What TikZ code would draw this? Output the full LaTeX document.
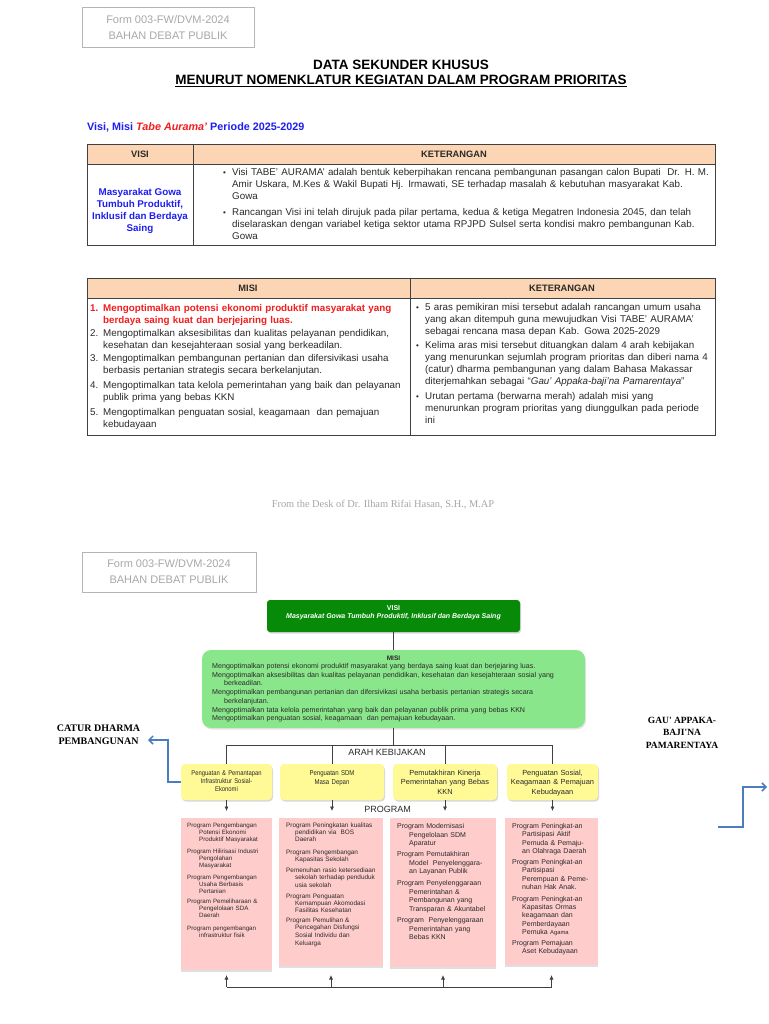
\documentclass[tikz,border=0pt]{standalone}
\usepackage{fontspec}
\setmainfont{Liberation Sans}
\newfontfamily\serifx{Liberation Serif}
\newfontfamily\condsans[FakeStretch=0.85]{Liberation Sans}
\usetikzlibrary{arrows.meta,shadows,calc}
\definecolor{hdrorange}{HTML}{FCD5B4}
\definecolor{visigreen}{HTML}{078A07}
\definecolor{misigreen}{HTML}{8AE68A}
\definecolor{ybox}{HTML}{FFFA96}
\definecolor{pbox}{HTML}{FFCCCC}
\definecolor{arrowblue}{HTML}{4A7EC0}
\definecolor{txtblue}{HTML}{1E1EF0}
\definecolor{txtred}{HTML}{F01E1E}
\definecolor{txtdark}{HTML}{2A2A2A}
\definecolor{formgray}{HTML}{A8A8A8}
\definecolor{linegray}{HTML}{404040}
\newcommand{\fsz}[2]{\fontsize{#1}{#2}\selectfont}
\tikzset{
  formbox/.style={draw=formgray!85, line width=1pt, text=formgray, minimum width=#1, minimum height=40pt, align=center, inner sep=0pt, font=\fsz{11}{16}},
  titletext/.style={anchor=base, inner sep=0pt, text=black, font=\bfseries\fsz{13.5}{16}},
  tbl/.style={draw=linegray, line width=0.8pt},
  hdrtext/.style={anchor=base, inner sep=0pt, text=txtdark, font=\bfseries\fsz{9.3}{12}},
  body/.style={anchor=base west, inner sep=0pt, text=txtdark, font=\fsz{9.8}{12}, align=left, text width=#1},
  bul/.style={anchor=base west, inner sep=0pt, text=txtdark, font=\fsz{8}{12}},
  num/.style={anchor=base west, inner sep=0pt, text=txtdark, font=\fsz{9.8}{12}},
  conn/.style={draw=linegray, line width=0.7pt},
  darr/.style={conn, -{Latex[length=4.5pt,width=4pt]}},
  bluearr/.style={draw=arrowblue, line width=1.5pt, -{Straight Barb[length=4pt,width=8pt]}},
  ybx/.style={fill=ybox, rounded corners=4pt, minimum width=#1, minimum height=36pt, inner sep=0pt,
    drop shadow={shadow xshift=1pt, shadow yshift=-1.5pt, opacity=0.3}},
  pbx/.style={fill=pbox, minimum width=#1, inner sep=0pt,
    drop shadow={shadow xshift=0.3pt, shadow yshift=-2pt, opacity=0.25}},
  ytxt/.style={anchor=base, inner sep=0pt, text=txtdark, align=center, text width=92pt},
  ptxt/.style={anchor=base west, inner sep=0pt, text=txtdark, align=left, text width=100pt},
  sbold/.style={inner sep=0pt, text=black, align=center, font=\serifx\bfseries\fsz{10}{13}}
}
\begin{document}
\begin{tikzpicture}[x=1pt,y=-1pt]
\useasboundingbox (0,0) rectangle (768,1024);
\fill[white] (0,0) rectangle (768,1024);

% ---------- top header ----------
\node[formbox=172pt] (form1) at (168,28) {Form 003-FW/DVM-2024\\BAHAN DEBAT PUBLIK};
\node[titletext] (t1) at (401,69.5) {DATA SEKUNDER KHUSUS};
\node[titletext] (t2) at (401,84.5) {\underline{MENURUT NOMENKLATUR KEGIATAN DALAM PROGRAM PRIORITAS}};
\node[anchor=base west, inner sep=0pt, text=txtblue, font=\bfseries\fsz{10.8}{13}] (subhead) at (87,131)
  {Visi, Misi \textcolor{txtred}{\itshape Tabe Aurama'} Periode 2025-2029};

% ---------- VISI table ----------
\fill[hdrorange] (87,144) rectangle (715,164);
\draw[tbl] (87,144) rectangle (715,245);
\draw[tbl] (87,164) -- (715,164);
\draw[tbl] (193,144) -- (193,245);
\node[hdrtext] (vh1) at (140,157.5) {VISI};
\node[hdrtext] (vh2) at (454,157.5) {KETERANGAN};
\node[inner sep=0pt, align=center, text=txtblue, font=\bfseries\fsz{9.8}{12.3}] (visitext) at (140,211)
  {Masyarakat Gowa\\Tumbuh Produktif,\\Inklusif dan Berdaya\\Saing};
\node[bul] (vb1) at (223,176) {•};
\node[body=480pt] (vk1) at (232,176) {Visi TABE’ AURAMA’ adalah bentuk keberpihakan rencana pembangunan pasangan calon Bupati\ \ Dr. H. M.\\Amir Uskara, M.Kes \& Wakil Bupati Hj. Irmawati, SE terhadap masalah \& kebutuhan masyarakat Kab.\\Gowa};
\node[bul] (vb2) at (223,216) {•};
\node[body=480pt] (vk2) at (232,216) {Rancangan Visi ini telah dirujuk pada pilar pertama, kedua \& ketiga Megatren Indonesia 2045, dan telah\\diselaraskan dengan variabel ketiga sektor utama RPJPD Sulsel serta kondisi makro pembangunan Kab.\\Gowa};

% ---------- MISI table ----------
\fill[hdrorange] (87,278) rectangle (715,298);
\draw[tbl] (87,278) rectangle (715,435);
\draw[tbl] (87,298) -- (715,298);
\draw[tbl] (410,278) -- (410,435);
\node[hdrtext] (mh1) at (248,291.5) {MISI};
\node[hdrtext] (mh2) at (562,291.5) {KETERANGAN};

\node[num, text=txtred, font=\bfseries\fsz{9.8}{12}] (n1) at (90,311) {1.};
\node[body=305pt, text=txtred, font=\bfseries\fsz{9.8}{12}] (m1) at (103,311) {Mengoptimalkan potensi ekonomi produktif masyarakat yang\\berdaya saing kuat dan berjejaring luas.};
\node[num] (n2) at (90,336) {2.};
\node[body=305pt] (m2) at (103,336) {Mengoptimalkan aksesibilitas dan kualitas pelayanan pendidikan,\\kesehatan dan kesejahteraan sosial yang berkeadilan.};
\node[num] (n3) at (90,361.5) {3.};
\node[body=305pt] (m3) at (103,361.5) {Mengoptimalkan pembangunan pertanian dan difersivikasi usaha\\berbasis pertanian strategis secara berkelanjutan.};
\node[num] (n4) at (90,388) {4.};
\node[body=305pt] (m4) at (103,388) {Mengoptimalkan tata kelola pemerintahan yang baik dan pelayanan\\publik prima yang bebas KKN};
\node[num] (n5) at (90,415) {5.};
\node[body=305pt] (m5) at (103,415) {Mengoptimalkan penguatan sosial, keagamaan\ \ dan pemajuan\\kebudayaan};

\node[bul] (kb1) at (416,310) {•};
\node[body=288pt] (k1) at (425,310) {5 aras pemikiran misi tersebut adalah rancangan umum usaha\\yang akan ditempuh guna mewujudkan Visi TABE’ AURAMA’\\sebagai rencana masa depan Kab. Gowa 2025-2029};
\node[bul] (kb2) at (416,348) {•};
\node[body=288pt] (k2) at (425,348) {Kelima aras misi tersebut dituangkan dalam 4 arah kebijakan\\yang menurunkan sejumlah program prioritas dan diberi nama 4\\(catur) dharma pembangunan yang dalam Bahasa Makassar\\diterjemahkan sebagai “\textit{Gau’ Appaka-baji’na Pamarentaya}”};
\node[bul] (kb3) at (416,399) {•};
\node[body=288pt] (k3) at (425,399) {Urutan pertama (berwarna merah) adalah misi yang\\menurunkan program prioritas yang diunggulkan pada periode\\ini};

% ---------- footer / second page ----------
\node[inner sep=0pt, text=black!35, font=\serifx\fsz{10.4}{12}] (desk) at (383,505) {From the Desk of Dr. Ilham Rifai Hasan, S.H., M.AP};
\node[formbox=174pt] (form2) at (169,572) {Form 003-FW/DVM-2024\\BAHAN DEBAT PUBLIK};

% ---------- lower diagram ----------
\node[fill=visigreen, rounded corners=3pt, minimum width=253pt, minimum height=32pt, inner sep=0pt,
  drop shadow={shadow xshift=1pt, shadow yshift=-1.5pt, opacity=0.3}] (visi) at (393.5,616) {};
\node[inner sep=0pt, text=white, align=center, font=\bfseries\itshape\fsz{7}{8}] (visitxt) at (393.5,613)
  {{\upshape VISI}\\Masyarakat Gowa Tumbuh Produktif, Inklusif dan Berdaya Saing};

\node[fill=misigreen, rounded corners=9pt, minimum width=383pt, minimum height=78pt, inner sep=0pt,
  drop shadow={shadow xshift=1pt, shadow yshift=-1.5pt, opacity=0.2}] (misi) at (393.5,689) {};
\node[inner sep=0pt, text=txtdark, font=\bfseries\fsz{6.5}{8}] (misihead) at (393.5,658) {MISI};
\node[anchor=base west, inner sep=0pt, text=txtdark, align=left, text width=372pt, font=\fsz{7.1}{8.7}] (misitxt) at (212,668.5)
  {Mengoptimalkan potensi ekonomi produktif masyarakat yang berdaya saing kuat dan berjejaring luas.\\
   Mengoptimalkan aksesibilitas dan kualitas pelayanan pendidikan, kesehatan dan kesejahteraan sosial yang\\
   \hspace*{12pt}berkeadilan.\\
   Mengoptimalkan pembangunan pertanian dan difersivikasi usaha berbasis pertanian strategis secara\\
   \hspace*{12pt}berkelanjutan.\\
   Mengoptimalkan tata kelola pemerintahan yang baik dan pelayanan publik prima yang bebas KKN\\
   Mengoptimalkan penguatan sosial, keagamaan\ \ dan pemajuan kebudayaan.};

\draw[conn] (visi.south) -- (misi.north);

% arah kebijakan boxes
\node[ybx=91pt] (y1) at (226.5,782) {};
\node[ybx=104pt] (y2) at (332,782) {};
\node[ybx=104pt] (y3) at (445,782) {};
\node[ybx=91pt] (y4) at (552.5,782) {};
\node[ytxt, font=\condsans\fsz{6.9}{8.2}] (y1t) at (226.5,775.5) {Penguatan \& Pemantapan\\Infrastruktur Sosial-\\Ekonomi};
\node[ytxt, font=\condsans\fsz{7.1}{8.5}] (y2t) at (332,775.5) {Penguatan SDM\\Masa Depan};
\node[ytxt, font=\fsz{7.4}{9.3}] (y3t) at (445,775.5) {Pemutakhiran Kinerja\\Pemerintahan yang Bebas\\KKN};
\node[ytxt, font=\fsz{7.4}{9.3}] (y4t) at (552.5,775.5) {Penguatan Sosial,\\Keagamaan \& Pemajuan\\Kebudayaan};

\coordinate (hub) at (393.5,745);
\draw[conn] (misi.south) -- (hub);
\draw[conn] (y1.north |- hub) -- (y4.north |- hub);
\draw[conn] (y1.north |- hub) -- (y1.north);
\draw[conn] (y2.north |- hub) -- (y2.north);
\draw[conn] (y3.north |- hub) -- (y3.north);
\draw[conn] (y4.north |- hub) -- (y4.north);
\node[inner sep=0pt, text=txtdark, font=\fsz{9}{11}] (arah) at (387,752.5) {ARAH KEBIJAKAN};

% program boxes
\node[pbx=91pt, minimum height=152pt] (p1) at (226.5,894) {};
\node[pbx=104pt, minimum height=148pt] (p2) at (331,892) {};
\node[pbx=106pt, minimum height=149pt] (p3) at (443,892.5) {};
\node[pbx=93pt, minimum height=147pt] (p4) at (551.5,891.5) {};

\coordinate (progtip) at (0,811);
\draw[darr] (y1.south) -- (y1.south |- progtip);
\draw[darr] (y2.south) -- (y2.south |- progtip);
\draw[darr] (y3.south) -- (y3.south |- progtip);
\draw[darr] (y4.south) -- (y4.south |- progtip);
\node[inner sep=0pt, text=txtdark, font=\fsz{9}{11}] (program) at (387.5,809.5) {PROGRAM};

% program texts
\begin{scope}[every node/.append style={ptxt}]
\node[font=\fsz{6.2}{7}] (a1) at (187,827) {Program Pengembangan\\\hspace*{12pt}Potensi Ekonomi\\\hspace*{12pt}Produktif Masyarakat};
\node[font=\fsz{6.2}{7}] (a2) at (187,853) {Program Hilirisasi Industri\\\hspace*{12pt}Pengolahan\\\hspace*{12pt}Masyarakat};
\node[font=\fsz{6.2}{7}] (a3) at (187,879) {Program Pengembangan\\\hspace*{12pt}Usaha Berbasis\\\hspace*{12pt}Pertanian};
\node[font=\fsz{6.2}{7}] (a4) at (187,903) {Program Pemeliharaan \&\\\hspace*{12pt}Pengelolaan SDA\\\hspace*{12pt}Daerah};
\node[font=\fsz{6.2}{7}] (a5) at (187,930) {Program pengembangan\\\hspace*{12pt}infrastruktur fisik};

\node[font=\fsz{6.4}{7.4}] (b1) at (286,827) {Program Peningkatan kualitas\\\hspace*{9pt}pendidikan via\ \ BOS\\\hspace*{9pt}Daerah};
\node[font=\fsz{6.4}{7.4}] (b2) at (286,854) {Program Pengembangan\\\hspace*{9pt}Kapasitas Sekolah};
\node[font=\fsz{6.4}{7.6}] (b3) at (286,872) {Pemenuhan rasio ketersediaan\\\hspace*{9pt}sekolah terhadap penduduk\\\hspace*{9pt}usia sekolah};
\node[font=\fsz{6.4}{7.4}] (b4) at (286,898) {Program Penguatan\\\hspace*{9pt}Kemampuan Akomodasi\\\hspace*{9pt}Fasilitas Kesehatan};
\node[font=\fsz{6.4}{7.7}] (b5) at (286,922) {Program Pemulihan \&\\\hspace*{9pt}Pencegahan Disfungsi\\\hspace*{9pt}Sosial Individu dan\\\hspace*{9pt}Keluarga};

\node[font=\fsz{7}{8.5}] (c1) at (397,828.5) {Program Modernisasi\\\hspace*{12pt}Pengelolaan SDM\\\hspace*{12pt}Aparatur};
\node[font=\fsz{7}{8.5}] (c2) at (397,856.5) {Program Pemutakhiran\\\hspace*{12pt}Model\ \ Penyelenggara-\\\hspace*{12pt}an Layanan Publik};
\node[font=\fsz{7}{8.6}] (c3) at (397,885.5) {Program Penyelenggaraan\\\hspace*{12pt}Pemerintahan \&\\\hspace*{12pt}Pembangunan yang\\\hspace*{12pt}Transparan \& Akuntabel};
\node[font=\fsz{7}{8.5}] (c4) at (397,922.5) {Program\ \ Penyelenggaraan\\\hspace*{12pt}Pemerintahan yang\\\hspace*{12pt}Bebas KKN};

\node[font=\fsz{7}{8.3}] (d1) at (512,828.5) {Program Peningkat-an\\\hspace*{10pt}Partisipasi Aktif\\\hspace*{10pt}Pemuda \& Pemaju-\\\hspace*{10pt}an Olahraga Daerah};
\node[font=\fsz{7}{8.3}] (d2) at (512,864.5) {Program Peningkat-an\\\hspace*{10pt}Partisipasi\\\hspace*{10pt}Perempuan \& Peme-\\\hspace*{10pt}nuhan Hak Anak.};
\node[font=\fsz{7}{8.2}] (d3) at (512,901.5) {Program Peningkat-an\\\hspace*{10pt}Kapasitas Ormas\\\hspace*{10pt}keagamaan dan\\\hspace*{10pt}Pemberdayaan\\\hspace*{10pt}Pemuka {\fsz{5.8}{8}Agama}};
\node[font=\fsz{7}{8.3}] (d4) at (512,945.5) {Program Pemajuan\\\hspace*{10pt}Aset Kebudayaan};
\end{scope}

% bottom feedback line
\coordinate (botline) at (0,987);
\coordinate (bottip) at (0,975);
\draw[conn] (p1.south |- botline) -- (p4.south |- botline);
\draw[darr] (p1.south |- botline) -- (p1.south |- bottip);
\draw[darr] (p2.south |- botline) -- (p2.south |- bottip);
\draw[darr] (p3.south |- botline) -- (p3.south |- bottip);
\draw[darr] (p4.south |- botline) -- (p4.south |- bottip);

% side labels and blue arrows
\node[sbold] (catur) at (98.5,734.5) {CATUR DHARMA\\PEMBANGUNAN};
\coordinate (caturtip) at (148,740);
\draw[bluearr] (y1.west) -- ++(-13,0) |- (caturtip);

\node[sbold, font=\serifx\bfseries\fsz{9.5}{12.5}] (gau) at (682,732.5) {GAU' APPAKA-\\BAJI'NA\\PAMARENTAYA};
\coordinate (rstart) at (718,827);
\coordinate (rtip) at (767,787);
\draw[bluearr] (rstart) -- ++(25,0) |- (rtip);
\end{tikzpicture}
\end{document}
